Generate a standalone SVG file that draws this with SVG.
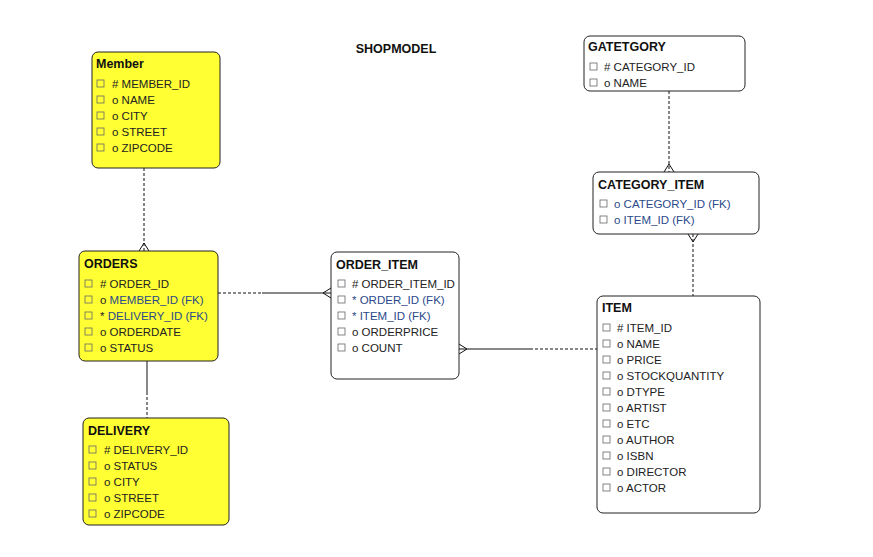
<svg xmlns="http://www.w3.org/2000/svg" width="873" height="557" viewBox="0 0 873 557">
<style>
text{font-family:"Liberation Sans",Arial,sans-serif;font-size:11.5px;fill:#222}
.t{font-weight:bold;font-size:12.5px;fill:#111}
.fk{fill:#2b4a8a}
.y{fill:#ffff33;stroke:#222;stroke-width:1}
.w{fill:#fff;stroke:#222;stroke-width:1}
.cb{fill:none;stroke:#666;stroke-width:0.8}
.l{stroke:#111;stroke-width:1;fill:none}
.d{stroke:#111;stroke-width:1;fill:none;stroke-dasharray:3,2}
</style>
<defs><rect id="c" class="cb" width="7" height="7"/></defs>
<rect width="873" height="557" fill="#fff"/>
<text x="396" y="53" class="t" text-anchor="middle" font-size="12">SHOPMODEL</text>
<g id="connectors">
<path class="d" d="M144 168V251"/><path class="l" d="M139 251L144 243L149 251"/>
<path class="l" d="M147 361V392"/><path class="d" d="M147 392V418"/>
<path class="d" d="M218 293H262"/><path class="l" d="M262 293H331"/><path class="l" d="M331 288L323 293L331 298"/>
<path class="l" d="M459 349H530"/><path class="d" d="M530 349H597"/><path class="l" d="M459 344L467 349L459 354"/>
<path class="d" d="M669 91V172"/><path class="l" d="M664 172L669 164L674 172"/>
<path class="d" d="M693 234V296"/><path class="l" d="M688 234L693 242L698 234"/>
</g>
<g id="member"><rect class="y" x="92" y="52" width="128" height="116" rx="6"/>
<text x="96" y="68" class="t">Member</text>
<use href="#c" x="97" y="80"/><text x="112" y="88"># MEMBER_ID</text>
<use href="#c" x="97" y="96"/><text x="112" y="104">o NAME</text>
<use href="#c" x="97" y="112"/><text x="112" y="120">o CITY</text>
<use href="#c" x="97" y="128"/><text x="112" y="136">o STREET</text>
<use href="#c" x="97" y="144"/><text x="112" y="152">o ZIPCODE</text></g>
<g id="orders"><rect class="y" x="79" y="251" width="139" height="110" rx="6"/>
<text x="84" y="268" class="t">ORDERS</text>
<use href="#c" x="85" y="280"/><text x="100" y="288"># ORDER_ID</text>
<use href="#c" x="85" y="296"/><text x="100" y="304">o <tspan class="fk">MEMBER_ID (FK)</tspan></text>
<use href="#c" x="85" y="312"/><text x="100" y="320">*  <tspan class="fk">DELIVERY_ID (FK)</tspan></text>
<use href="#c" x="85" y="328"/><text x="100" y="336">o ORDERDATE</text>
<use href="#c" x="85" y="344"/><text x="100" y="352">o STATUS</text></g>
<g id="delivery"><rect class="y" x="83" y="418" width="146" height="107" rx="6"/>
<text x="88" y="435" class="t">DELIVERY</text>
<use href="#c" x="89" y="446"/><text x="104" y="454"># DELIVERY_ID</text>
<use href="#c" x="89" y="462"/><text x="104" y="470">o STATUS</text>
<use href="#c" x="89" y="478"/><text x="104" y="486">o CITY</text>
<use href="#c" x="89" y="494"/><text x="104" y="502">o STREET</text>
<use href="#c" x="89" y="510"/><text x="104" y="518">o ZIPCODE</text></g>
<g id="order_item"><rect class="w" x="331" y="252" width="128" height="127" rx="6"/>
<text x="336" y="269" class="t">ORDER_ITEM</text>
<use href="#c" x="338" y="280"/><text x="352" y="288"># ORDER_ITEM_ID</text>
<use href="#c" x="338" y="296"/><text x="352" y="304" class="fk">*  ORDER_ID (FK)</text>
<use href="#c" x="338" y="312"/><text x="352" y="320" class="fk">*  ITEM_ID (FK)</text>
<use href="#c" x="338" y="328"/><text x="352" y="336">o ORDERPRICE</text>
<use href="#c" x="338" y="344"/><text x="352" y="352">o COUNT</text></g>
<g id="gatetgory"><rect class="w" x="584" y="36" width="161" height="55" rx="6"/>
<text x="588" y="51" class="t">GATETGORY</text>
<use href="#c" x="590" y="63"/><text x="604" y="71"># CATEGORY_ID</text>
<use href="#c" x="590" y="79"/><text x="604" y="87">o NAME</text></g>
<g id="category_item"><rect class="w" x="593" y="172" width="166" height="62" rx="6"/>
<text x="598" y="189" class="t">CATEGORY_ITEM</text>
<use href="#c" x="600" y="200"/><text x="614" y="208" class="fk">o CATEGORY_ID (FK)</text>
<use href="#c" x="600" y="216"/><text x="614" y="224" class="fk">o ITEM_ID (FK)</text></g>
<g id="item"><rect class="w" x="597" y="296" width="163" height="217" rx="6"/>
<text x="602" y="312" class="t">ITEM</text>
<use href="#c" x="603" y="324"/><text x="617" y="332"># ITEM_ID</text>
<use href="#c" x="603" y="340"/><text x="617" y="348">o NAME</text>
<use href="#c" x="603" y="356"/><text x="617" y="364">o PRICE</text>
<use href="#c" x="603" y="372"/><text x="617" y="380">o STOCKQUANTITY</text>
<use href="#c" x="603" y="388"/><text x="617" y="396">o DTYPE</text>
<use href="#c" x="603" y="404"/><text x="617" y="412">o ARTIST</text>
<use href="#c" x="603" y="420"/><text x="617" y="428">o ETC</text>
<use href="#c" x="603" y="436"/><text x="617" y="444">o AUTHOR</text>
<use href="#c" x="603" y="452"/><text x="617" y="460">o ISBN</text>
<use href="#c" x="603" y="468"/><text x="617" y="476">o DIRECTOR</text>
<use href="#c" x="603" y="484"/><text x="617" y="492">o ACTOR</text></g>
</svg>
